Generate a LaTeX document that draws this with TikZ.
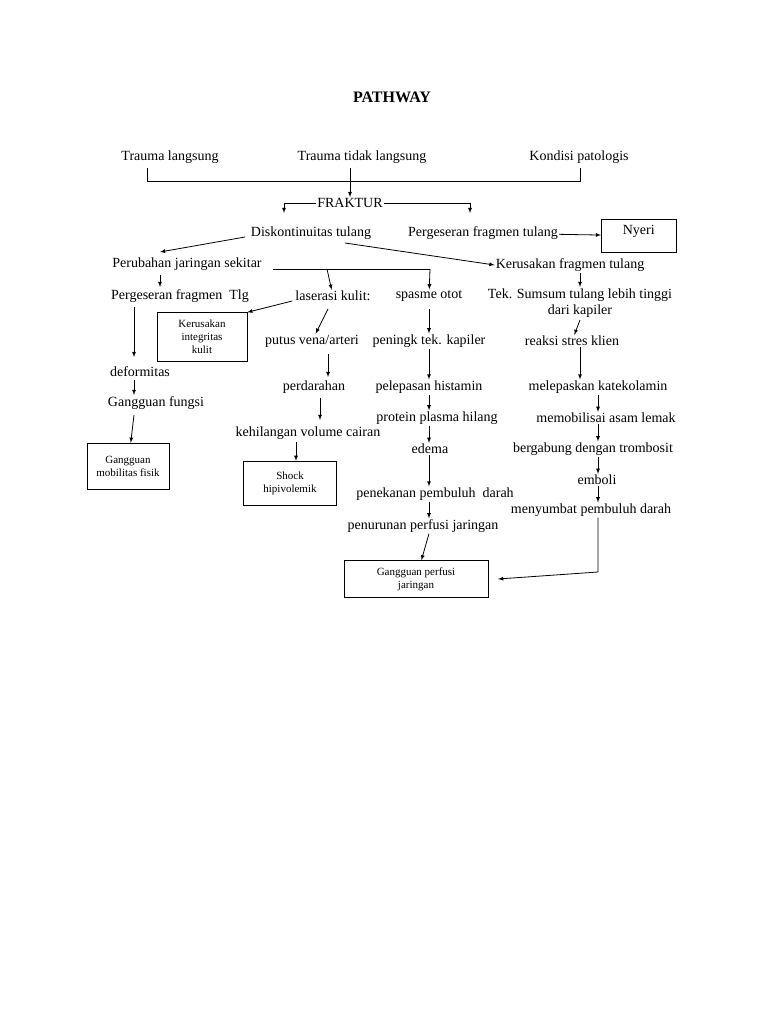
\documentclass[tikz,border=0pt]{standalone}
\usepackage{fontspec}
\setmainfont{Liberation Serif}
\usepackage{tikz}
\usetikzlibrary{arrows,positioning}

\begin{document}
\begin{tikzpicture}[x=1pt,y=-1pt,every node/.style={font=\fontsize{14}{16}\selectfont, inner sep=1pt}]
        \tikzstyle{box} = [draw, font=\fontsize{11}{13}\selectfont, align=center, inner sep=0pt]
        \tikzstyle{arr} = [-latex, thick, line width=0.8pt]
        \useasboundingbox (0,0) rectangle (768,1024);
        \node[font=\bfseries\fontsize{16}{18}\selectfont] (title) at (392,97) {PATHWAY};
        % top row
        \node (tl) at (170,157) {Trauma langsung};
        \node (ttl) at (362,157) {Trauma tidak langsung};
        \node (kp) at (579,157) {Kondisi patologis};
        \node (fr) at (350,203) {FRAKTUR};
        \node (dis) at (311,233) {Diskontinuitas tulang};
        \node (pft) at (483,233) {Pergeseran fragmen tulang};
        \node[draw, minimum width=75, minimum height=33, anchor=north west, inner sep=0pt] (nyeri) at (601,219) {};
        \node[anchor=north] at (nyeri.north) [yshift=-5] {Nyeri};
        \node (pjs) at (187,264) {Perubahan jaringan sekitar};
        \node (kft) at (570,265) {Kerusakan fragmen tulang};
        % columns
        \node (ptlg) at (180,296) {Pergeseran fragmen\ \ Tlg};
        \node (lk) at (333,296) {laserasi kulit:};
        \node (so) at (429,296) {spasme otot};
        \node[align=center] (tek) at (580,303) {Tek. Sumsum tulang lebih tinggi\\dari kapiler};
        \node[box, minimum width=90, minimum height=49] (kik) at (202,337) {Kerusakan\\integritas\\kulit};
        \node (pva) at (312,341) {putus vena/arteri};
        \node (ptk) at (429,341) {peningk tek. kapiler};
        \node (rsk) at (572,341) {reaksi stres klien};
        \node (def) at (140,372) {deformitas};
        \node (gf) at (156,403) {Gangguan fungsi};
        \node[box, minimum width=82, minimum height=46] (gmf) at (128,466) {Gangguan\\mobilitas fisik};
        \node (pdr) at (314,387) {perdarahan};
        \node (kvc) at (308,433) {kehilangan volume cairan};
        \node[box, minimum width=93, minimum height=44] (sh) at (290,483) {Shock\\hipivolemik};
        \node (ph) at (429,387) {pelepasan histamin};
        \node (pph) at (437,418) {protein plasma hilang};
        \node (ed) at (430,449) {edema};
        \node (ppd) at (435,494) {penekanan pembuluh\ \ darah};
        \node (ppj) at (423,526) {penurunan perfusi jaringan};
        \node[box, minimum width=144, minimum height=37] (gpj) at (416,579) {Gangguan perfusi\\jaringan};
        \node (mk) at (598,387) {melepaskan katekolamin};
        \node (mal) at (606,418) {memobilisai asam lemak};
        \node (bdt) at (593,449) {bergabung dengan trombosit};
        \node (emb) at (597,480) {emboli};
        \node (mpd) at (591,510) {menyumbat pembuluh darah};

        \draw [thick] (147,168) -- (147,181) -- (580,181) -- (580,168);
        \draw [arr] (350,168) -- (fr);
        \draw [arr] (fr.west) -- (284,203) -- (284,213);
        \draw [arr] (fr.east) -- (470,203) -- (470,213);
        \draw [arr] (pft) -- (nyeri);
        \draw [arr] (245,237) -- (160,252);
        \draw [arr] (345,243) -- (kft.west);
        \draw [arr] (160,275) -- (160,287);
        \draw [thick] (273,269) -- (430,269);
        \draw [arr] (327,269) -- (lk);
        \draw [arr] (430,269) -- (so);
        \draw [arr] (kft.south -| 580,0) -- (580,287);
        \draw [arr] (lk.west) ++(-2,5) -- (kik.north east);
        \draw [arr] (134,307) -- (134,357);
        \draw [arr] (328,309) -- (pva);
        \draw [arr] (429,309) -- (ptk);
        \draw [arr] (580,320) -- (rsk);
        \draw [arr] (134,380) -- (134,395);
        \draw [arr] (134,415) -- (gmf);
        \draw [arr] (328,354) -- (328,377);
        \draw [arr] (320,398) -- (320,420);
        \draw [arr] (296,442) -- (sh.north -| 296,0);
        \draw [arr] (ptk) -- (ph);
        \draw [arr] (ph) -- (pph.north -| 429,0);
        \draw [arr] (pph.south -| 429,0) -- (ed.north -| 429,0);
        \draw [arr] (ed.south -| 429,0) -- (ppd.north -| 429,0);
        \draw [arr] (ppd.south -| 429,0) -- (ppj.north -| 429,0);
        \draw [arr] (ppj.south -| 429,0) -- (gpj);
        \draw [arr] (rsk.south -| 580,0) -- (mk.north -| 580,0);
        \draw [arr] (mk.south -| 598,0) -- (mal.north -| 598,0);
        \draw [arr] (mal.south -| 598,0) -- (bdt.north -| 598,0);
        \draw [arr] (bdt.south -| 598,0) -- (emb.north -| 598,0);
        \draw [arr] (emb.south -| 598,0) -- (mpd.north -| 598,0);
        \draw [arr] (mpd.south -| 598,0) -- (598,572) -- (gpj.east -| 498,0);
\end{tikzpicture}
\end{document}
